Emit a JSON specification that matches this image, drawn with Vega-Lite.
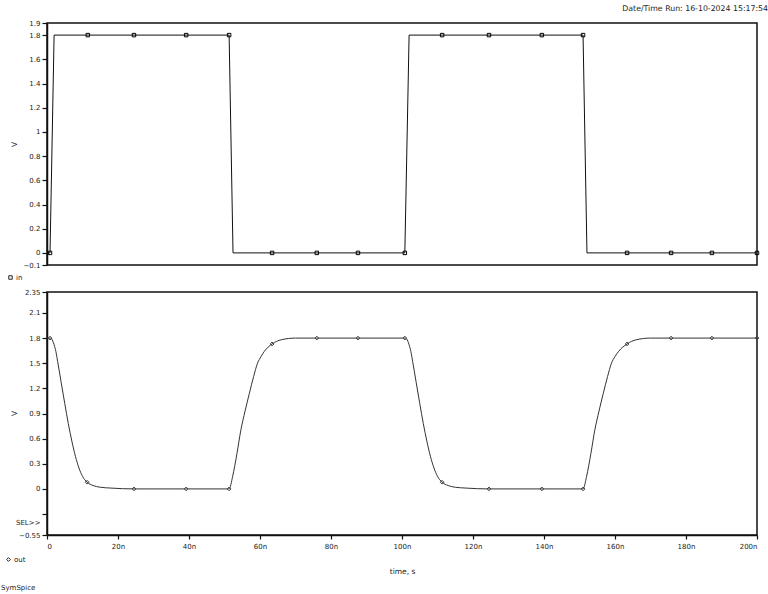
{
  "$schema": "https://vega.github.io/schema/vega-lite/v6.json",
  "background": "white",
  "padding": {"left": 0, "top": 5, "right": 1, "bottom": 3},
  "config": {
    "font": "DejaVu Sans",
    "view": {"stroke": "#111", "strokeWidth": 1.5},
    "axis": {"labelFont": "DejaVu Sans", "labelFontSize": 7, "labelColor": "#222", "tickColor": "#111", "domainColor": "#111", "domainWidth": 1.5, "tickWidth": 1.2, "grid": false, "titleFont": "DejaVu Sans", "titleFontSize": 7.5, "titleFontWeight": "normal", "titleColor": "#222"},
    "legend": {"labelFont": "DejaVu Sans", "labelFontSize": 7, "labelColor": "#222", "symbolSize": 14, "symbolStrokeWidth": 1, "symbolStrokeColor": "#222", "symbolFillColor": "white", "padding": 0, "labelOffset": 2}
  },
  "title": {"text": "Date/Time Run: 16-10-2024 15:17:54", "anchor": "end", "frame": "group", "fontSize": 7.8, "fontWeight": "normal", "color": "#222", "offset": 5, "dx": 11},
  "bounds": "flush",
  "spacing": 27,
  "resolve": {"scale": {"shape": "independent", "y": "independent"}, "legend": {"shape": "independent"}},
  "vconcat": [
    {
      "width": 710,
      "height": 242,
      "data": {"values": [
        {"t": 0, "v": 0, "m": 0},
        {"t": 0.85, "v": 0, "m": 1},
        {"t": 2, "v": 1.8, "m": 0},
        {"t": 11.5, "v": 1.8, "m": 1},
        {"t": 24.5, "v": 1.8, "m": 1},
        {"t": 39.2, "v": 1.8, "m": 1},
        {"t": 51.3, "v": 1.8, "m": 1},
        {"t": 52.4, "v": 0, "m": 0},
        {"t": 63.4, "v": 0, "m": 1},
        {"t": 76, "v": 0, "m": 1},
        {"t": 87.6, "v": 0, "m": 1},
        {"t": 100.8, "v": 0, "m": 1},
        {"t": 102, "v": 1.8, "m": 0},
        {"t": 111.3, "v": 1.8, "m": 1},
        {"t": 124.5, "v": 1.8, "m": 1},
        {"t": 139.4, "v": 1.8, "m": 1},
        {"t": 151, "v": 1.8, "m": 1},
        {"t": 152.1, "v": 0, "m": 0},
        {"t": 163.4, "v": 0, "m": 1},
        {"t": 175.8, "v": 0, "m": 1},
        {"t": 187.3, "v": 0, "m": 1},
        {"t": 200, "v": 0, "m": 1}
      ]},
      "encoding": {
        "x": {"field": "t", "type": "quantitative", "scale": {"domain": [0, 200], "nice": false}, "axis": null},
        "y": {"field": "v", "type": "quantitative", "scale": {"domain": [-0.1, 1.9], "nice": false, "zero": false},
          "axis": {"values": [-0.1, 0, 0.2, 0.4, 0.6, 0.8, 1, 1.2, 1.4, 1.6, 1.8, 1.9], "format": "~g", "title": "V", "titleX": -29, "titleY": 121, "tickSize": 5, "labelPadding": 2}}
      },
      "layer": [
        {"mark": {"type": "line", "color": "#111", "strokeWidth": 1}},
        {"transform": [{"filter": "datum.m == 1"}],
          "mark": {"type": "point", "size": 12, "filled": false, "stroke": "#000", "strokeWidth": 1, "opacity": 1},
          "encoding": {"shape": {"datum": "in", "type": "nominal", "scale": {"range": ["square"]},
            "legend": {"title": null, "orient": "none", "legendX": -40, "legendY": 251, "symbolSize": 12}}}}
      ]
    },
    {
      "width": 710,
      "height": 243,
      "title": {"text": "SymSpice", "orient": "bottom", "anchor": "start", "frame": "group", "dx": -46, "offset": 9, "fontSize": 7, "fontWeight": "normal", "color": "#222"},
      "data": {"values": [
        {"t": 0, "v": 1.8, "m": 0},
        {"t": 0.85, "v": 1.8, "m": 1},
        {"t": 1.3, "v": 1.79, "m": 0},
        {"t": 2, "v": 1.72, "m": 0},
        {"t": 2.5, "v": 1.64, "m": 0},
        {"t": 3, "v": 1.52, "m": 0},
        {"t": 4, "v": 1.27, "m": 0},
        {"t": 5, "v": 1.02, "m": 0},
        {"t": 6, "v": 0.78, "m": 0},
        {"t": 7, "v": 0.57, "m": 0},
        {"t": 8, "v": 0.39, "m": 0},
        {"t": 9, "v": 0.25, "m": 0},
        {"t": 10, "v": 0.15, "m": 0},
        {"t": 11.3, "v": 0.08, "m": 1},
        {"t": 13, "v": 0.04, "m": 0},
        {"t": 15, "v": 0.02, "m": 0},
        {"t": 18, "v": 0.01, "m": 0},
        {"t": 24.5, "v": 0, "m": 1},
        {"t": 39.2, "v": 0, "m": 1},
        {"t": 51.3, "v": 0, "m": 1},
        {"t": 52.3, "v": 0.15, "m": 0},
        {"t": 53.5, "v": 0.42, "m": 0},
        {"t": 54.6, "v": 0.7, "m": 0},
        {"t": 55.8, "v": 0.93, "m": 0},
        {"t": 57, "v": 1.14, "m": 0},
        {"t": 58.2, "v": 1.34, "m": 0},
        {"t": 59.3, "v": 1.5, "m": 0},
        {"t": 60.3, "v": 1.58, "m": 0},
        {"t": 61.2, "v": 1.64, "m": 0},
        {"t": 63.4, "v": 1.73, "m": 1},
        {"t": 66, "v": 1.78, "m": 0},
        {"t": 70, "v": 1.8, "m": 0},
        {"t": 76, "v": 1.8, "m": 1},
        {"t": 87.6, "v": 1.8, "m": 1},
        {"t": 100.8, "v": 1.8, "m": 1},
        {"t": 101.3, "v": 1.79, "m": 0},
        {"t": 102, "v": 1.72, "m": 0},
        {"t": 102.5, "v": 1.64, "m": 0},
        {"t": 103, "v": 1.52, "m": 0},
        {"t": 104, "v": 1.27, "m": 0},
        {"t": 105, "v": 1.02, "m": 0},
        {"t": 106, "v": 0.78, "m": 0},
        {"t": 107, "v": 0.57, "m": 0},
        {"t": 108, "v": 0.39, "m": 0},
        {"t": 109, "v": 0.25, "m": 0},
        {"t": 110, "v": 0.15, "m": 0},
        {"t": 111.3, "v": 0.08, "m": 1},
        {"t": 113, "v": 0.04, "m": 0},
        {"t": 115, "v": 0.02, "m": 0},
        {"t": 118, "v": 0.01, "m": 0},
        {"t": 124.5, "v": 0, "m": 1},
        {"t": 139.4, "v": 0, "m": 1},
        {"t": 151, "v": 0, "m": 1},
        {"t": 152, "v": 0.15, "m": 0},
        {"t": 153.2, "v": 0.42, "m": 0},
        {"t": 154.3, "v": 0.7, "m": 0},
        {"t": 155.5, "v": 0.93, "m": 0},
        {"t": 156.7, "v": 1.14, "m": 0},
        {"t": 157.9, "v": 1.34, "m": 0},
        {"t": 159, "v": 1.5, "m": 0},
        {"t": 160, "v": 1.58, "m": 0},
        {"t": 161, "v": 1.64, "m": 0},
        {"t": 163.4, "v": 1.73, "m": 1},
        {"t": 166, "v": 1.78, "m": 0},
        {"t": 170, "v": 1.8, "m": 0},
        {"t": 175.8, "v": 1.8, "m": 1},
        {"t": 187.3, "v": 1.8, "m": 1},
        {"t": 200, "v": 1.8, "m": 1}
      ]},
      "encoding": {
        "x": {"field": "t", "type": "quantitative", "scale": {"domain": [0, 200], "nice": false},
          "axis": {"values": [0, 20, 40, 60, 80, 100, 120, 140, 160, 180, 200], "labelExpr": "datum.value == 0 ? '0' : datum.value + 'n'", "title": "time, s", "tickSize": 4, "labelPadding": 3, "titlePadding": 18}},
        "y": {"field": "v", "type": "quantitative", "scale": {"domain": [-0.55, 2.35], "nice": false, "zero": false},
          "axis": {"values": [-0.55, -0.3, 0, 0.3, 0.6, 0.9, 1.2, 1.5, 1.8, 2.1, 2.35], "labelExpr": "datum.value == -0.3 ? 'SEL>>' : format(datum.value, '~g')", "labelOffset": {"condition": {"test": "datum.value == -0.3", "value": 8}, "value": 0}, "title": "V", "titleX": -29, "titleY": 121, "tickSize": 5, "labelPadding": 2}}
      },
      "layer": [
        {"mark": {"type": "line", "color": "#333", "strokeWidth": 1, "interpolate": "monotone"}},
        {"transform": [{"filter": "datum.m == 1"}],
          "mark": {"type": "point", "size": 14, "filled": false, "stroke": "#444", "strokeWidth": 1, "opacity": 1},
          "encoding": {"shape": {"datum": "out", "type": "nominal", "scale": {"range": ["diamond"]},
            "legend": {"title": null, "orient": "none", "legendX": -42, "legendY": 264, "symbolSize": 14}}}}
      ]
    }
  ]
}
